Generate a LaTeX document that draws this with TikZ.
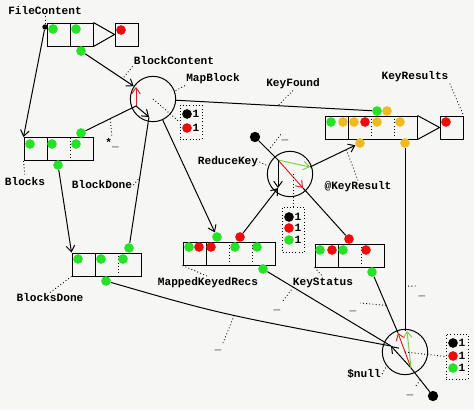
\documentclass[tikz,border=0pt]{standalone}
\usepackage{fontspec}
\setmonofont{Liberation Mono}
\usepackage{xcolor}
\definecolor{paper}{RGB}{246,246,244}
\definecolor{tokgreen}{RGB}{38,226,38}
\definecolor{tokred}{RGB}{236,12,12}
\definecolor{tokorange}{RGB}{240,186,30}
\definecolor{fwdgreen}{RGB}{122,206,72}
\definecolor{fwdred}{RGB}{214,30,30}
\usepackage{tikz}
\usetikzlibrary{arrows.meta,calc}

\begin{document}
\begin{tikzpicture}[
  x=0.3mm, y=-0.3mm,
  font=\ttfamily\bfseries\fontsize{9.5}{11}\selectfont,
  queue/.style={draw, line width=0.85pt, minimum height=6.9mm, inner sep=0pt},
  trans/.style={draw, circle, line width=0.85pt, minimum size=13.6mm, inner sep=0pt},
  tok/.style={circle, inner sep=0pt, minimum size=2.9mm},
  gtok/.style={tok, fill=tokgreen},
  rtok/.style={tok, fill=tokred},
  otok/.style={tok, fill=tokorange},
  ktok/.style={tok, fill=black},
  lbl/.style={inner sep=1pt},
  ulbl/.style={anchor=base, inner sep=0pt},
  cntbox/.style={draw, dotted, line width=0.75pt, minimum width=6.6mm, inner sep=0pt},
  lead/.style={dotted, line width=0.75pt},
  link/.style={line width=0.85pt},
  arr/.style={link, -{Straight Barb[length=1.8mm, width=2.6mm]}},
  garr/.style={arr, draw=fwdgreen, line width=0.8pt},
  rarr/.style={arr, draw=fwdred, line width=0.8pt}
]
\fill[paper] (0,0) rectangle (474,410);

% places
\node[queue, minimum width=13.8mm] (fc) at (70,34.5) {};
\node[queue, minimum width=6.9mm] (fcout) at (126.5,34.5) {};
\draw[link] (fc.north east) -- (fcout.west) -- (fc.south east);
\draw[link] (fc.north) -- (fc.south);

\node[queue, minimum width=20.7mm] (blocks) at (58.5,149) {};
\draw[link] (47,137.5) -- (47,160.5);
\draw[lead] (70,137.5) -- (70,160.5);

\node[queue, minimum width=20.7mm] (bdone) at (106.5,264.5) {};
\draw[link] (95,253) -- (95,276);
\draw[lead] (118,253) -- (118,276);

\node[queue, minimum width=27.6mm] (mkr) at (229,253.5) {};
\draw[link] (206,242) -- (206,265);
\draw[lead] (229,242) -- (229,265) (252,242) -- (252,265);

\node[queue, minimum width=20.7mm] (ks) at (349.5,255.5) {};
\draw[link] (338,244) -- (338,267);
\draw[lead] (361,244) -- (361,267);

\node[queue, minimum width=27.6mm] (kr) at (371,127.5) {};
\node[queue, minimum width=6.9mm] (krout) at (451.5,127.5) {};
\draw[link] (kr.north east) -- (krout.west) -- (kr.south east);
\draw[link] (348,116) -- (348,139);
\draw[lead] (371,116) -- (371,139) (394,116) -- (394,139);

% transitions
\node[trans] (mapblock) at (153,99) {};
\node[trans] (reducekey) at (290,174) {};
\node[trans] (null) at (405,352) {};

% sources
\node[ktok, minimum size=1.6mm] (fcdot) at (45,27) {};
\node[ktok, minimum size=3.1mm] (rkdot) at (255,137) {};
\node[ktok, minimum size=3.1mm] (nldot) at (433,396) {};

% tokens
\node[gtok] (fc1) at (53,29) {};
\node[gtok] (fc2) at (76,29) {};
\node[rtok] (fco1) at (121,30) {};
\node[gtok] (fcbl) at (81,51) {};

\foreach \x [count=\i] in {30,52,76} \node[gtok] (blk\i) at (\x,144) {};
\node[gtok] (blkab) at (81,133) {};
\node[gtok] (blkbl) at (58,165) {};

\foreach \x [count=\i] in {78,101,123} \node[gtok] (bd\i) at (\x,259) {};
\node[gtok] (bdab) at (129,248) {};
\node[gtok] (bdbl) at (106,281) {};

\foreach \x/\c [count=\i] in {189/tokgreen,199/tokred,211/tokred,235/tokgreen,257/tokgreen}
  \node[tok, fill=\c] (mkr\i) at (\x,247) {};
\node[gtok] (mkrab1) at (217,237) {};
\node[rtok] (mkrab2) at (240,237) {};
\node[gtok] (mkrbl) at (263,269) {};

\foreach \x/\c [count=\i] in {320/tokgreen,332/tokred,343/tokgreen,366/tokred}
  \node[tok, fill=\c] (ks\i) at (\x,250) {};
\node[rtok] (ksab) at (349,239) {};
\node[gtok] (ksbl) at (372,272) {};

\foreach \x/\c [count=\i] in {331/tokgreen,343/tokorange,354/tokorange,365/tokred,377/tokorange,400/tokorange}
  \node[tok, fill=\c] (kr\i) at (\x,122) {};
\node[gtok] (kfg) at (377,111) {};
\node[otok] (kfo) at (387,111) {};
\node[otok] (krbl1) at (360,143) {};
\node[otok] (krbl2) at (405,143) {};
\node[rtok] (kro1) at (446,122) {};

% counters
\node[cntbox, minimum height=10.2mm] (mbcnt) at (191,122) {};
\foreach \y/\c [count=\i] in {114/black,128/tokred} {
  \node[tok, fill=\c] (mbc\i) at (187,\y) {};
  \node[lbl] (mbn\i) at (196,\y) {1};
}
\node[cntbox, minimum height=13.5mm] (rkcnt) at (293.5,229.5) {};
\foreach \y/\c [count=\i] in {217/black,228/tokred,240/tokgreen} {
  \node[tok, fill=\c] (rkc\i) at (289,\y) {};
  \node[lbl] (rkn\i) at (298,\y) {1};
}
\node[cntbox, minimum height=13.5mm] (nlcnt) at (457,356.5) {};
\foreach \y/\c [count=\i] in {343/black,356/tokred,368/tokgreen} {
  \node[tok, fill=\c] (nlc\i) at (453,\y) {};
  \node[lbl] (nln\i) at (462,\y) {1};
}

% MapBlock arcs
\coordinate (mbin) at (136,106);
\coordinate (mbup) at (136,87);
\coordinate (mbdn) at (149,117);
\draw[arr] (fcdot) -- (blocks.north west);
\draw[arr] (fcbl) -- (mapblock) coordinate[pos=0.77] (bcpt);
\draw[link] (blkab) -- (mbin) coordinate[pos=0.49] (stpt);
\draw[rarr] (mbin) -- (mbup);
\draw[arr] (mbin) -- (mbdn);
\draw[link] (mbdn) -- (bdab) coordinate[pos=0.48] (bdpt);
\draw[arr] (mapblock) -- (mkrab1);
\draw[arr] (blkbl) -- (bdone.north west);
\draw[link] (mapblock) -- (kfg) coordinate[pos=0.52] (kfpt);

% ReduceKey arcs
\coordinate (rkin) at (278,160);
\coordinate (rkgr) at (310,167);
\coordinate (rkrd) at (303,188);
\coordinate (rkdn) at (278,188);
\draw[link] (rkdot) -- (rkin) coordinate[pos=0.5] (rupt);
\draw[garr] (rkin) -- (rkgr);
\draw[rarr] (rkin) -- (rkrd);
\draw[arr] (rkin) -- (rkdn);
\draw[arr] (mkrab2) -- (rkdn);
\draw[arr] (rkgr) -- (krbl1) coordinate[pos=0.8] (krpt);
\draw[link] (rkrd) -- (ksab);

% $null arcs
\coordinate (nlin) at (411,368);
\coordinate (nlbk) at (391,346);
\coordinate (nlrd) at (398,333);
\coordinate (nlgr) at (407,331);
\draw[link] (nldot) -- (nlin) coordinate[pos=0.5] (u3pt);
\draw[arr] (nlin) -- (nlbk);
\draw[rarr] (nlin) -- (nlrd);
\draw[garr] (nlin) -- (nlgr);
\draw[link] (krbl2) -- (krbl2 |- nlgr) coordinate[pos=0.755] (u1pt);
\draw[link] (ksbl) -- (nlrd) coordinate[pos=0.51] (u2pt);
\draw[link] (mkrbl) -- (nlbk) coordinate[pos=0.21] (u4pt);
\draw[link] (bdbl) .. controls (220,314) .. (nlbk) coordinate[pos=0.53] (u5pt);

% labels
\node[lbl] (lfc) at (45,11) {FileContent};
\draw[lead] (lfc.south) -- (fcdot);
\node[lbl] (lbc) at (174,61) {BlockContent};
\draw[lead] (lbc.south west) -- (bcpt);
\node[lbl] (lmb) at (213,79) {MapBlock};
\draw[lead] (lmb.south west) -- (mapblock.20);
\draw[lead] (mapblock.center) -- (mbcnt.west);
\node[lbl] (lkf) at (293,84) {KeyFound};
\draw[lead] (lkf.south) -- (kfpt);
\node[lbl] (lkr) at (415,77) {KeyResults};
\draw[lead] (lkr.south east) -- (krout.north east);
\node[ulbl] (lstar) at (112,146) {*\_};
\draw[lead] (stpt) -- (lstar.north);
\node[lbl] (lbd) at (102,185) {BlockDone};
\draw[lead] (lbd.east) -- (bdpt);
\node[lbl] (lblk) at (25,182) {Blocks};
\draw[lead] (blocks.south west) -- (lblk.north);
\node[lbl] (lrk) at (228,162) {ReduceKey};
\draw[lead] (lrk.east) -- (reducekey.160);
\node[ulbl] (lrku) at (285,139) {\_};
\draw[lead] (rupt) -- ($(lrku.base)+(-3,-6)$);
\node[lbl] (lkres) at (358,187) {@KeyResult};
\draw[lead] (krpt) -- (lkres.north);
\draw[lead] (rkcnt.north |- reducekey.center) -- (rkcnt.north);
\node[lbl] (lmkr) at (208,283) {MappedKeyedRecs};
\draw[lead] (mkr.south west) -- (lmkr.north);
\node[lbl] (lks) at (323,283) {KeyStatus};
\draw[lead] (ks.south west) -- (lks.north);
\node[lbl] (lbdn) at (50,298) {BlocksDone};
\draw[lead] (bdone.south west) -- (lbdn.north);
\node[lbl] (lnull) at (364,374) {\$null};
\draw[lead] (lnull.east) -- (null.217);
\draw[lead] (null.center) -- (nlcnt.west);

\node[ulbl] (u1) at (422,295) {\_};
\draw[lead] (u1pt) -- ($(u1.base)+(-5,-9)$);
\node[ulbl] (u2) at (353,310) {\_};
\draw[lead] (u2pt) -- ($(u2.base)+(7,-7)$);
\node[ulbl] (u3) at (410,394) {\_};
\draw[lead] (u3pt) -- ($(u3.base)+(5,-7)$);
\node[ulbl] (u4) at (277,309) {\_};
\draw[lead] (u4pt) -- ($(u4.base)+(5,-7)$);
\node[ulbl] (u5) at (218,349) {\_};
\draw[lead] (u5pt) -- ($(u5.base)+(5,-6)$);
\end{tikzpicture}
\end{document}
